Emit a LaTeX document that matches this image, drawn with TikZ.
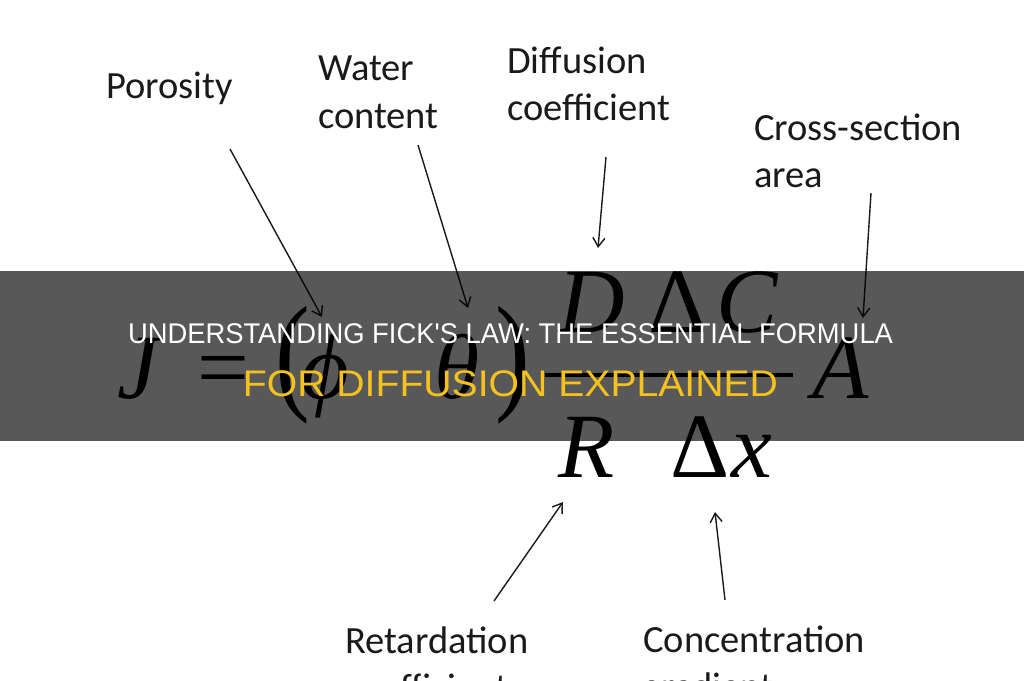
\documentclass[tikz,border=0pt]{standalone}
\usepackage{fontspec}
\usepackage{graphicx}
\usetikzlibrary{arrows.meta}
\newfontfamily\labf{Carlito}
\newfontfamily\serf{Liberation Serif}
\newfontfamily\titf{Liberation Sans}
\definecolor{ink}{HTML}{1A1A1A}
\definecolor{goldtxt}{HTML}{F4C11F}
\begin{document}
\begin{tikzpicture}[x=1pt,y=-1pt,
  lab/.style={font=\labf\fontsize{38.5}{38.5}\selectfont, text=ink, inner sep=0pt, anchor=base west},
  sym/.style={font=\serf\itshape\fontsize{92}{92}\selectfont, text=black, inner sep=0pt, anchor=base},
  upr/.style={font=\serf\fontsize{92}{92}\selectfont, text=black, inner sep=0pt, anchor=base},
  par/.style={font=\serf\fontsize{130}{130}\selectfont, text=black, inner sep=0pt, anchor=base},
  ptr/.style={draw=ink, line width=1.4pt, -{Straight Barb[length=9pt,width=12pt]}},
  ttl/.style={inner sep=0pt, anchor=base},
]
\useasboundingbox (0,0) rectangle (1024,680);
\clip (0,0) rectangle (1024,680);
\fill[white] (0,0) rectangle (1024,680);

% labels
\node[lab] (poro) at (106,98) {Porosity};
\node[lab] (wat1) at (318,80) {Water};
\node[lab] (wat2) at (318,128) {content};
\node[lab] (dif1) at (507,73) {Diffusion};
\node[lab] (dif2) at (507,120) {coefficient};
\node[lab] (crs1) at (754,140) {Cross-section};
\node[lab] (crs2) at (754,187) {area};
\node[lab] (ret1) at (345,653) {Retardation};
\node[lab] (ret2) at (345,700) {coefficient};
\node[lab] (con1) at (643,652) {Concentration};
\node[lab] (con2) at (643,699) {gradient};

% formula
\node[sym] (J) at (138,398) {J};
\node[upr] (eq) at (223,398) {=};
\node[par] (lp) at (293,396) {\scalebox{0.8}[1]{(}};
\node[sym] (phi) at (325,398) {ϕ};
\node[sym] (th) at (457,398) {θ};
\node[par] (rp) at (513,396) {\scalebox{0.8}[1]{)}};
\node[sym] (D) at (592,332) {D};
\node[upr] (dC) at (678,332) {Δ};
\node[sym] (C) at (747,332) {C};
\coordinate (barL) at (545,375);
\coordinate (barR) at (793,375);
\draw[line width=3.5pt] (barL) -- (barR);
\node[sym] (R) at (587,477) {R};
\node[upr] (dx) at (700,477) {Δ};
\node[sym] (x) at (752,477) {x};
\node[sym] (A) at (841,398) {A};

% arrows
\coordinate (p0) at (230,149); \coordinate (p1) at (322,317);
\coordinate (w0) at (418,145); \coordinate (w1) at (468,308);
\coordinate (d0) at (606,157); \coordinate (d1) at (598,248);
\coordinate (c0) at (871,193); \coordinate (c1) at (863,318);
\coordinate (r0) at (494,601); \coordinate (r1) at (563,502);
\coordinate (g0) at (725,600); \coordinate (g1) at (715,512);
\draw[ptr] (p0) -- (p1);
\draw[ptr] (w0) -- (w1);
\draw[ptr] (d0) -- (d1);
\draw[ptr] (c0) -- (c1);
\draw[ptr] (r0) -- (r1);
\draw[ptr] (g0) -- (g1);

% banner
\fill[black, fill opacity=0.655] (0,271) rectangle (1024,441);
\node[ttl, text=white] (t1) at (510.5,343) {\resizebox{765pt}{\height}{\titf\fontsize{28.5}{28.5}\selectfont UNDERSTANDING FICK{\char"27}S LAW: THE ESSENTIAL FORMULA}};
\node[ttl, text=goldtxt] (t2) at (510.5,396) {\resizebox{535pt}{\height}{\titf\fontsize{37}{37}\selectfont FOR DIFFUSION EXPLAINED}};
\end{tikzpicture}
\end{document}
